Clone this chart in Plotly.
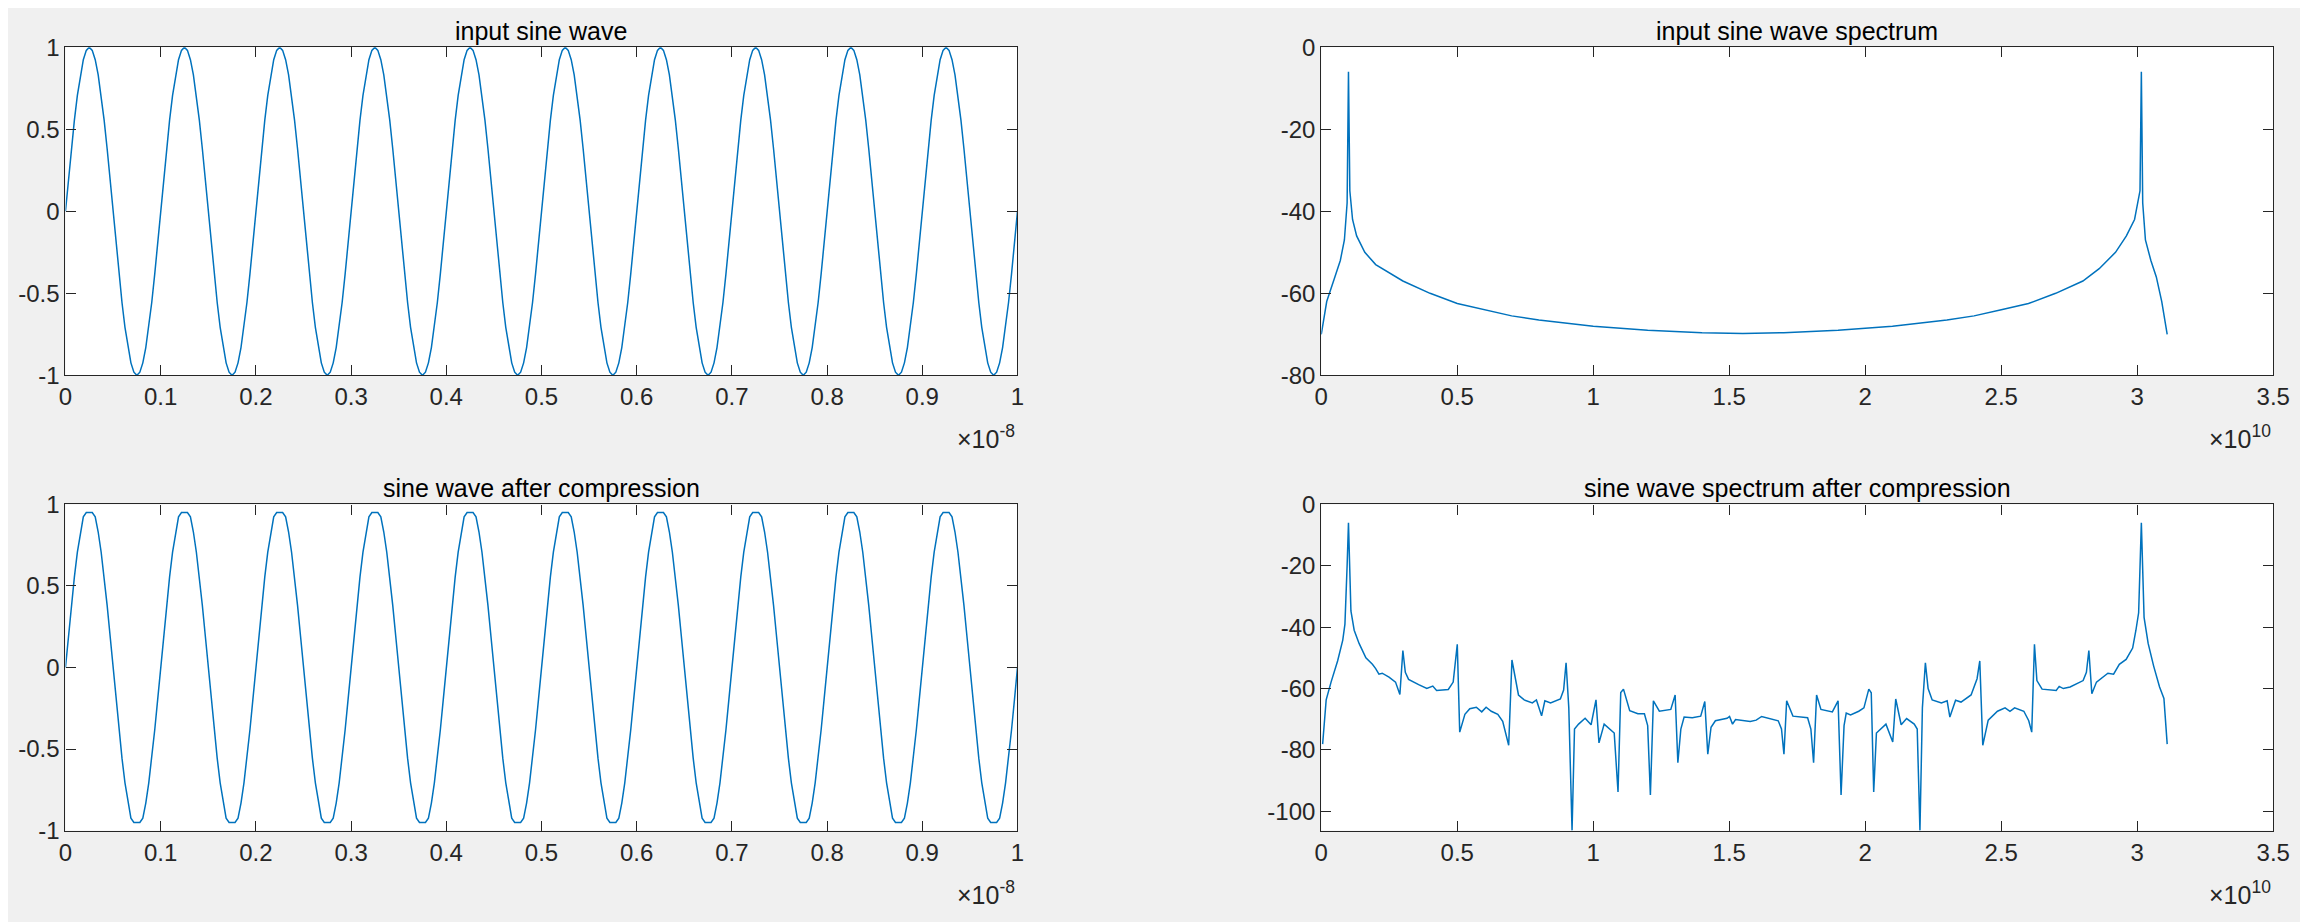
import plotly.graph_objects as go
from plotly.subplots import make_subplots

# one period of the sine (32 samples / period), repeated 10x
sine_cycle = [0, 0.195, 0.383, 0.556, 0.707, 0.831, 0.924, 0.981, 1.0, 0.981, 0.924, 0.831,
              0.707, 0.556, 0.383, 0.195, 0, -0.195, -0.383, -0.556, -0.707, -0.831, -0.924,
              -0.981, -1.0, -0.981, -0.924, -0.831, -0.707, -0.556, -0.383, -0.195]
comp_cycle = [0, 0.195, 0.383, 0.556, 0.707, 0.831, 0.924, 0.95, 0.95, 0.95, 0.924, 0.831,
              0.707, 0.556, 0.383, 0.195, 0, -0.195, -0.383, -0.556, -0.707, -0.831, -0.924,
              -0.95, -0.95, -0.95, -0.924, -0.831, -0.707, -0.556, -0.383, -0.195]
n_cycles = 10
period = 1e-9

# spectra, frequency in GHz
spec_f = [0, 0.2, 0.5, 0.7, 0.85, 0.95, 1.0, 1.05, 1.15, 1.3, 1.6, 2, 3, 4, 5, 6, 7, 8, 10, 12,
          14, 15.5, 17, 19, 21, 23, 24, 25, 26, 27, 28, 28.6, 29.2, 29.6, 29.9, 30.1, 30.15,
          30.2, 30.3, 30.5, 30.7, 30.9, 31.1]
spec_db = [-70, -62, -56, -52, -47, -38, -6, -35, -42, -46, -50, -53, -57, -60, -62.5, -64,
           -65.5, -66.5, -68, -69, -69.6, -69.8, -69.6, -69, -68, -66.5, -65.5, -64, -62.5,
           -60, -57, -54, -50, -46, -42, -35, -6, -38, -47, -52, -56, -62, -70]

comp_f = [0.05, 0.18, 0.36, 0.6, 0.79, 0.87, 0.95, 1.0, 1.09, 1.21, 1.39, 1.64, 1.88, 2.0,
          2.12, 2.24, 2.49, 2.73, 2.89, 3.0, 3.09, 3.21, 3.58, 3.88, 4.1, 4.24, 4.67, 4.85,
          5.0, 5.09, 5.28, 5.46, 5.7, 5.9, 6.06, 6.25, 6.49, 6.67, 6.89, 7.01, 7.25, 7.46,
          7.76, 7.91, 8.1, 8.22, 8.43, 8.79, 8.91, 9.0, 9.1, 9.22, 9.31, 9.46, 9.7, 9.92,
          10.1, 10.21, 10.4, 10.77, 10.91, 11.01, 11.11, 11.34, 11.64, 11.88, 12.0, 12.1,
          12.21, 12.43, 12.85, 13.01, 13.11, 13.22, 13.34, 13.64, 13.95, 14.1, 14.21, 14.33,
          14.49, 14.92, 15.01, 15.12, 15.23, 15.77, 15.99, 16.19, 16.8, 16.92, 17.01, 17.11,
          17.34, 17.88, 18.0, 18.1, 18.21, 18.37, 18.79, 19.0, 19.11, 19.22, 19.3, 19.46,
          19.76, 19.95, 20.13, 20.22, 20.31, 20.41, 20.76, 21.01, 21.12, 21.32, 21.52, 21.8,
          21.91, 22.01, 22.1, 22.21, 22.31, 22.46, 22.8, 23.01, 23.11, 23.32, 23.52, 23.89,
          24.11, 24.21, 24.32, 24.52, 24.86, 25.14, 25.32, 25.49, 25.83, 26.01, 26.12, 26.22,
          26.31, 26.5, 27.02, 27.13, 27.28, 27.53, 28.01, 28.13, 28.22, 28.33, 28.5, 28.92,
          29.13, 29.34, 29.59, 29.83, 29.95, 30.05, 30.15, 30.25, 30.4, 30.6, 30.82, 30.98,
          31.1]
comp_db = [-78.1, -63.7, -57.9, -51, -44.2, -39, -20, -6, -34.7, -41, -45.3, -50, -52.1, -53.5,
           -55.3, -55, -56.3, -57.9, -61.9, -47.6, -54.7, -57, -58.7, -60, -59.2, -60.6, -60.3,
           -57.9, -45.6, -74.2, -68.4, -66.6, -66.1, -67.6, -66.1, -67.4, -68.4, -70.7, -78.5,
           -50.7, -62.1, -63.7, -64.7, -63.7, -68.9, -64, -64.7, -63.4, -60.5, -51.6, -66.3,
           -106.3, -73.2, -71.6, -69.7, -71.8, -63.7, -77.7, -71.6, -74.5, -93.7, -61.3, -60.2,
           -67.2, -68.2, -68.2, -72.1, -94.7, -64, -67.4, -66.8, -62.1, -84.2, -73.2, -69.3,
           -69.5, -69, -64.2, -81.4, -72.6, -70.5, -69.7, -69.1, -71.6, -70.1, -70.7, -70.3,
           -69.1, -70.5, -73.2, -81.4, -64, -69, -69.5, -73.2, -84.2, -62.1, -66.8, -67.6, -64,
           -94.7, -72.1, -68, -68.6, -67.4, -66.3, -60.2, -61.4, -93.7, -74.5, -71.6, -77.4,
           -63.4, -71.8, -69.8, -71.6, -73.2, -106.3, -66.3, -51.6, -60, -63.7, -64.7, -64,
           -69.3, -63.8, -64.4, -62.1, -56.8, -51, -78.5, -70.3, -67.4, -66.3, -67.4, -66.3,
           -67.4, -70.5, -74.2, -45.6, -57.4, -60.2, -60.6, -59.3, -60, -59.5, -57.4, -54.7,
           -47.6, -61.7, -57.9, -55, -55.3, -52.1, -50.5, -46.8, -41, -35.3, -6, -36.8, -45.3,
           -52.6, -59.5, -63.2, -78.1]

t = [i * period / len(sine_cycle) for i in range(len(sine_cycle) * n_cycles + 1)]
y_in = (sine_cycle * n_cycles) + [0]
y_comp = (comp_cycle * n_cycles) + [0]

blue = "#0072BD"
W, H = 2308, 922
fig = make_subplots(rows=2, cols=2)
fig.add_trace(go.Scatter(x=t, y=y_in, mode="lines", line=dict(color=blue, width=1.5)), 1, 1)
fig.add_trace(go.Scatter(x=[f * 1e9 for f in spec_f], y=spec_db, mode="lines",
                         line=dict(color=blue, width=1.5)), 1, 2)
fig.add_trace(go.Scatter(x=t, y=y_comp, mode="lines", line=dict(color=blue, width=1.5)), 2, 1)
fig.add_trace(go.Scatter(x=[f * 1e9 for f in comp_f], y=comp_db, mode="lines",
                         line=dict(color=blue, width=1.5)), 2, 2)

xl = [51 / W, 1013 / W]
xr = [1320 / W, 2282 / W]
yt = [1 - 364 / H, 1 - 26 / H]
yb = [1 - 833 / H, 1 - 497 / H]

font = "Liberation Sans, Arial"
ax = dict(showline=True, mirror="ticks", linecolor="#262626", linewidth=1.2, ticks="inside",
          ticklen=10, tickcolor="#262626", showgrid=False, zeroline=False,
          tickfont=dict(family=font, size=24, color="#262626"))
left_ticks = [i * 1e-9 for i in range(11)]
left_text = ["0", "0.1", "0.2", "0.3", "0.4", "0.5", "0.6", "0.7", "0.8", "0.9", "1"]
right_ticks = [i * 5e9 for i in range(8)]
right_text = ["0", "0.5", "1", "1.5", "2", "2.5", "3", "3.5"]

fig.update_xaxes(domain=xl, range=[0, 1e-8], tickvals=left_ticks, ticktext=left_text, row=1, col=1, **ax)
fig.update_xaxes(domain=xl, range=[0, 1e-8], tickvals=left_ticks, ticktext=left_text, row=2, col=1, **ax)
fig.update_xaxes(domain=xr, range=[0, 3.5e10], tickvals=right_ticks, ticktext=right_text, row=1, col=2, **ax)
fig.update_xaxes(domain=xr, range=[0, 3.5e10], tickvals=right_ticks, ticktext=right_text, row=2, col=2, **ax)
sine_y = dict(range=[-1, 1], tickvals=[-1, -0.5, 0, 0.5, 1], ticktext=["-1", "-0.5", "0", "0.5", "1"])
fig.update_yaxes(domain=yt, row=1, col=1, **sine_y, **ax)
fig.update_yaxes(domain=yb, row=2, col=1, **sine_y, **ax)
fig.update_yaxes(domain=yt, range=[-80, 0], tickvals=[-80, -60, -40, -20, 0],
                 ticktext=["-80", "-60", "-40", "-20", "0"], row=1, col=2, **ax)
fig.update_yaxes(domain=yb, range=[-106.3, 0], tickvals=[-100, -80, -60, -40, -20, 0],
                 ticktext=["-100", "-80", "-60", "-40", "-20", "0"], row=2, col=2, **ax)

tf = dict(family=font, size=25, color="black")
titles = [("input sine wave", xl, yt), ("input sine wave spectrum", xr, yt),
          ("sine wave after compression", xl, yb), ("sine wave spectrum after compression", xr, yb)]
for txt, xd, yd in titles:
    fig.add_annotation(text=txt, x=(xd[0] + xd[1]) / 2, y=yd[1], xref="paper", yref="paper",
                       xanchor="center", yanchor="bottom", yshift=0, showarrow=False, font=tf)
exps = [("×10<sup>-8</sup>", xl, yt), ("×10<sup>10</sup>", xr, yt),
        ("×10<sup>-8</sup>", xl, yb), ("×10<sup>10</sup>", xr, yb)]
for txt, xd, yd in exps:
    fig.add_annotation(text=txt, x=xd[1], y=yd[0], xref="paper", yref="paper",
                       xanchor="right", yanchor="top", yshift=-44, showarrow=False,
                       font=dict(family=font, size=25, color="#262626"))

fig.update_layout(width=W, height=H, margin=dict(l=0, r=0, t=0, b=0), showlegend=False,
                  paper_bgcolor="#f0f0f0", plot_bgcolor="white")
fig.write_html("out.html")
